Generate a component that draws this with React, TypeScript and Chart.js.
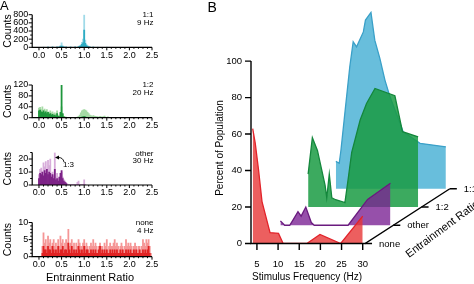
import React, { useEffect, useRef } from 'react';
import { Chart, registerables } from 'chart.js';
Chart.register(...registerables);

const FONT = '"Liberation Sans", Arial, Helvetica, sans-serif';

// ---------- Panel A : histograms (bins of 0.025 in entrainment ratio) ----------
const BINS = Array.from({ length: 101 }, (_, k) => +(k * 0.025).toFixed(3));

const p1Ratio = [0.1, 0.2, 0.3, 0.4, 0.45, 0.475, 0.5, 0.525, 0.55, 0.6, 0.7, 0.8, 0.875, 0.9, 0.925, 0.95, 0.975, 1.0, 1.025, 1.05, 1.075, 1.1, 1.125, 1.2, 1.3, 1.5];
const p1Light = [6, 8, 10, 12, 20, 40, 110, 35, 15, 10, 8, 10, 20, 40, 60, 120, 200, 800, 180, 70, 40, 20, 10, 8, 6, 4];
const p1Dark = [2, 3, 4, 5, 8, 15, 30, 12, 6, 4, 3, 4, 10, 20, 35, 70, 110, 420, 100, 40, 20, 10, 5, 3, 2, 1];

const p2Light = [35, 38, 30, 40, 28, 32, 25, 30, 22, 20, 25, 18, 22, 15, 18, 12, 25, 10, 8, 15, 40, 12, 5, 3, 2,
  0, 0, 0, 0, 0, 0, 0, 0, 0,
  2, 5, 10, 18, 25, 28, 30, 28, 25, 20, 15, 10, 8, 5, 8, 6, 5, 4, 3, 2, 5, 3, 2, 4, 6, 2, 1, 3, 1, 0];
const p2Dark = [25, 28, 22, 20, 25, 18, 22, 15, 20, 12, 15, 10, 12, 8, 10, 6, 15, 5, 4, 20, 120, 15, 3, 1, 0,
  0, 0, 0, 0, 0, 0, 0, 0, 0, 0, 0, 0, 0, 2, 3, 4, 3,
  0, 0, 0, 0, 0, 0, 0, 0, 0, 0, 0, 0, 0, 0, 0, 0, 0, 0, 0, 0, 0, 0];

const p3Light = [8, 12, 13, 10, 17, 14, 18, 12, 19, 15, 20, 8, 10, 7, 25, 6, 9, 5, 4, 6, 10, 6, 4, 3, 2, 1, 0, 0, 0, 0, 0, 0, 0, 0, 2, 3, 0, 0, 0, 0, 4, 0];
const p3Dark = [5, 9, 8, 10, 7, 11, 9, 12, 8, 10, 9, 6, 8, 5, 12, 4, 5, 3, 6, 9, 11, 5, 3, 2, 1, 0, 0, 0, 0, 0, 0, 0, 0, 0, 0, 0, 0, 0, 0, 0, 0, 0];

const p4Light = [0, 0, 0, 3, 7, 4, 5, 3, 6, 4,
  5, 3, 4, 5, 3, 4, 2, 5, 3, 6,
  4, 5, 3, 4, 5, 4, 8, 3, 4, 5,
  3, 4, 2, 4, 3, 5, 4, 3, 3, 4,
  5, 3, 4, 3, 2, 3, 4, 3, 5, 3,
  4, 3, 2, 3, 4, 3, 3, 2, 4, 3,
  5, 2, 3, 4, 3, 3, 4, 5, 3, 4,
  3, 2, 3, 4, 3, 2, 3, 5, 3, 4,
  3, 4, 3, 2, 3, 4, 3, 2, 3, 3,
  2, 3, 5, 4, 3, 5, 4, 5, 3, 1, 0];
const p4Dark = [0, 0, 0, 1, 3, 2, 2, 1, 3, 2,
  2, 1, 3, 2, 1, 2, 1, 3, 1, 2,
  2, 3, 1, 2, 2, 1, 4, 2, 1, 3,
  1, 2, 1, 2, 1, 3, 2, 1, 2, 1,
  3, 1, 2, 2, 1, 1, 2, 1, 2, 1,
  2, 1, 1, 2, 3, 1, 2, 1, 2, 1,
  2, 1, 1, 2, 1, 2, 1, 2, 1, 2,
  1, 1, 2, 1, 2, 1, 1, 2, 1, 2,
  1, 2, 1, 1, 2, 1, 2, 1, 1, 2,
  1, 1, 2, 1, 2, 1, 2, 3, 1, 0, 0];

const xTickLabels = ['0.0', '0.5', '1.0', '1.5', '2.0', '2.5'];

// ---------- Panel B : waterfall ----------
const freqTicks = [5, 10, 15, 20, 25, 30];
const pctTicks = [0, 20, 40, 60, 80, 100];
const ratioLabels = ['none', 'other', '1:2', '1:1'];

const noneFreq = [4, 4.6, 5.4, 6.2, 8.1, 10.1, 11.2, 16.8, 19.9, 24.8, 30];
const noneVal = [63, 55, 40, 23, 6, 5.5, 0, 0, 5, 0, 15];
const otherFreq = [4, 5, 6.2, 7, 8.15, 8.9, 10, 11.3, 12, 20, 24.6, 30];
const otherVal = [2.4, 0, 0, 3, 7.5, 5, 10, 1.5, 0, 0, 14.2, 23];
const halfFreq = [4, 5, 6.2, 8, 8.4, 9, 9.6, 10.5, 11.6, 12.7, 13.5, 14.3, 16.3, 17.8, 19.8, 24.5, 26.3, 30];
const halfVal = [18, 38, 31, 12, 5, 18, 5, 4, 3.3, 2.4, 16, 30, 47.7, 56.8, 65, 61, 41.3, 38.5];
const oneFreq = [4, 4.8, 5.2, 6.2, 7.3, 8.1, 8.9, 10.5, 11, 12.3, 13.2, 14.4, 15.6, 16.8, 18.3, 19.9, 23.9, 30];
const oneVal = [15, 14, 21, 43, 67, 80.6, 77.8, 86, 92.5, 96.7, 81.5, 71.5, 59.6, 50.4, 41.3, 31.3, 24.9, 23];

const SHIFT = 6.55; // Hz offset per depth level
const LEVEL = 10; // % offset per depth level

type Panel = {
  ratio: number[]; light: number[]; dark: number[];
  lightColor: string; darkColor: string;
  yMax: number; yTicks: number[]; yMinor: number;
  top: number; bottom: number;
  title: string[]; titleY: number[];
  xTitle?: boolean; arrow?: boolean;
};

const X_LEFT = 32.2, X_RIGHT = 152;

function histPlugin(p: Panel) {
  return {
    id: 'histAxes',
    afterDraw(chart: any) {
      const ctx = chart.ctx;
      const xs = chart.scales.x, ys = chart.scales.y;
      const yb = ys.getPixelForValue(0), yt = ys.getPixelForValue(p.yMax);
      const xl = chart.chartArea.left, xr = xs.getPixelForValue(2.5);
      ctx.save();
      ctx.strokeStyle = '#000';
      ctx.fillStyle = '#000';
      ctx.lineWidth = 1.2;
      ctx.beginPath();
      ctx.moveTo(xl, yt); ctx.lineTo(xl, yb); ctx.lineTo(xr, yb);
      ctx.stroke();
      ctx.lineWidth = 1;
      ctx.beginPath();
      for (let v = 0; v <= p.yMax + 1e-9; v += p.yMinor) {
        const y = ys.getPixelForValue(v);
        const major = p.yTicks.some((t) => Math.abs(t - v) < 1e-6);
        ctx.moveTo(xl - (major ? 3.5 : 2), y); ctx.lineTo(xl, y);
      }
      for (let k = 0; k <= 25; k++) {
        const x = xs.getPixelForValue(k * 0.1);
        ctx.moveTo(x, yb); ctx.lineTo(x, yb + (k % 5 === 0 ? 3 : 1.5));
      }
      ctx.stroke();
      ctx.font = `9px ${FONT}`;
      ctx.textAlign = 'right'; ctx.textBaseline = 'middle';
      p.yTicks.forEach((t) => ctx.fillText(String(t), xl - 4, ys.getPixelForValue(t)));
      ctx.textAlign = 'center'; ctx.textBaseline = 'top';
      xTickLabels.forEach((l) => ctx.fillText(l, xs.getPixelForValue(parseFloat(l)), yb + 3.5));
      ctx.textAlign = 'right'; ctx.textBaseline = 'middle';
      ctx.font = `8px ${FONT}`;
      p.title.forEach((t, i) => ctx.fillText(t, 153.5, p.titleY[i]));
      ctx.save();
      ctx.translate(8.5, (yb + yt) / 2);
      ctx.rotate(-Math.PI / 2);
      ctx.textAlign = 'center';
      ctx.font = `10.5px ${FONT}`;
      ctx.fillText('Counts', 0, 0);
      ctx.restore();
      if (p.xTitle) {
        ctx.textAlign = 'center';
        ctx.font = `11px ${FONT}`;
        ctx.fillText('Entrainment Ratio', 90, 278);
      }
      if (p.arrow) {
        ctx.font = `8px ${FONT}`;
        ctx.textAlign = 'center';
        ctx.fillText('1:3', 68.5, 165);
        ctx.lineWidth = 0.9;
        ctx.beginPath();
        ctx.moveTo(64, 162);
        ctx.quadraticCurveTo(63, 157.5, 58.5, 157.5);
        ctx.stroke();
        ctx.beginPath();
        ctx.moveTo(55, 157.5); ctx.lineTo(59, 155.6); ctx.lineTo(59, 159.4); ctx.closePath();
        ctx.fill();
      }
      ctx.restore();
    },
  };
}

function histConfig(p: Panel) {
  const mk = (vals: number[]) => vals.map((v, i) => ({ x: p.ratio[i], y: v }));
  const common = { barPercentage: 1, categoryPercentage: 1, borderWidth: 0, grouped: false };
  return {
    type: 'bar',
    data: {
      datasets: [
        { data: mk(p.dark), backgroundColor: p.darkColor, ...common },
        { data: mk(p.light), backgroundColor: p.lightColor, ...common },
      ],
    },
    options: {
      animation: false, responsive: false, events: [],
      layout: { padding: { left: X_LEFT, right: 474 - X_RIGHT, top: p.top, bottom: 284 - p.bottom } },
      scales: {
        x: { type: 'linear', min: -0.15, max: 2.5, display: false, offset: false },
        y: { type: 'linear', min: 0, max: p.yMax, display: false },
      },
      plugins: { legend: { display: false }, tooltip: { enabled: false } },
    },
    plugins: [histPlugin(p)],
  };
}

const panels: Panel[] = [
  { ratio: p1Ratio, light: p1Light, dark: p1Dark, lightColor: 'rgb(160,218,232)', darkColor: 'rgb(45,172,195)',
    yMax: 800, yTicks: [0, 200, 400, 600, 800], yMinor: 100, top: 14.7, bottom: 47.3, title: ['1:1', '9 Hz'], titleY: [15, 23] },
  { ratio: BINS, light: p2Light, dark: p2Dark, lightColor: 'rgb(165,218,165)', darkColor: 'rgb(30,150,60)',
    yMax: 120, yTicks: [0, 40, 80, 120], yMinor: 20, top: 85, bottom: 117.7, title: ['1:2', '20 Hz'], titleY: [85, 93] },
  { ratio: BINS, light: p3Light, dark: p3Dark, lightColor: 'rgb(215,172,218)', darkColor: 'rgb(125,35,135)',
    yMax: 25, yTicks: [0, 10, 20], yMinor: 5, top: 152.5, bottom: 185, title: ['other', '30 Hz'], titleY: [153.5, 160.5], arrow: true },
  { ratio: BINS, light: p4Light, dark: p4Dark, lightColor: 'rgb(245,150,150)', darkColor: 'rgb(225,35,35)',
    yMax: 10, yTicks: [0, 5, 10], yMinor: 1, top: 222.5, bottom: 256.7, title: ['none', '4 Hz'], titleY: [223, 230.5], xTitle: true },
];

const bSeries = [
  { freq: noneFreq, val: noneVal, level: 0, line: '#e2232a', fill: 'rgba(231,55,55,0.8)' },
  { freq: otherFreq, val: otherVal, level: 1, line: '#6a1b7f', fill: 'rgba(124,36,149,0.8)' },
  { freq: halfFreq, val: halfVal, level: 2, line: '#14873c', fill: 'rgba(26,155,67,0.85)' },
  { freq: oneFreq, val: oneVal, level: 3, line: '#3aa0c8', fill: 'rgba(88,183,216,0.9)' },
];

const bPlugin = {
  id: 'bAxes',
  afterDraw(chart: any) {
    const ctx = chart.ctx;
    const xs = chart.scales.x, ys = chart.scales.y;
    const X = (v: number) => xs.getPixelForValue(v);
    const Y = (v: number) => ys.getPixelForValue(v);
    const left = chart.chartArea.left;
    ctx.save();
    ctx.strokeStyle = '#000';
    ctx.fillStyle = '#000';
    ctx.lineWidth = 1.4;
    const dStart = 30.55;
    ctx.beginPath();
    ctx.moveTo(left, Y(100));
    ctx.lineTo(left, Y(0));
    ctx.lineTo(X(dStart), Y(0));
    ctx.lineTo(X(dStart + 3 * 6.68), Y(3 * LEVEL));
    ctx.stroke();
    ctx.beginPath();
    pctTicks.forEach((t) => { ctx.moveTo(left - 6, Y(t)); ctx.lineTo(left, Y(t)); });
    freqTicks.forEach((t) => { ctx.moveTo(X(t), Y(0)); ctx.lineTo(X(t), Y(0) + 6.5); });
    ratioLabels.forEach((_, i) => {
      const px = X(dStart + i * 6.68), py = Y(i * LEVEL);
      ctx.moveTo(px, py); ctx.lineTo(px + 7, py);
    });
    ctx.stroke();
    ctx.font = `9.5px ${FONT}`;
    ctx.textAlign = 'right'; ctx.textBaseline = 'middle';
    pctTicks.forEach((t) => ctx.fillText(String(t), left - 9, Y(t)));
    ctx.textAlign = 'center';
    freqTicks.forEach((t) => ctx.fillText(String(t), X(t), Y(0) + 20.5));
    ctx.textAlign = 'left';
    ratioLabels.forEach((l, i) => ctx.fillText(l, X(dStart + i * 6.68) + 14, Y(i * LEVEL) + 0.5));
    ctx.font = `10px ${FONT}`;
    ctx.textAlign = 'center';
    ctx.fillText('Stimulus Frequency (Hz)', 307, 277);
    ctx.save();
    ctx.translate(220, 148);
    ctx.rotate(-Math.PI / 2);
    ctx.fillText('Percent of Population', 0, 0);
    ctx.restore();
    ctx.save();
    ctx.font = `11px ${FONT}`;
    ctx.translate(409, 258);
    ctx.rotate(-0.64);
    ctx.textAlign = 'left';
    ctx.textBaseline = 'alphabetic';
    ctx.fillText('Entrainment Ratio', 0, 0);
    ctx.restore();
    ctx.textAlign = 'left';
    ctx.textBaseline = 'alphabetic';
    ctx.font = `13px ${FONT}`;
    ctx.fillText('A', 0, 9.5);
    ctx.font = `14px ${FONT}`;
    ctx.fillText('B', 207.5, 11.8);
    ctx.restore();
  },
};

function bConfig() {
  return {
    type: 'line',
    data: {
      datasets: bSeries.map((s) => ({
        data: s.freq.map((f, i) => ({ x: f + s.level * SHIFT, y: s.val[i] + s.level * LEVEL })),
        borderColor: s.line,
        backgroundColor: s.fill,
        fill: { value: s.level * LEVEL },
        borderWidth: 1.3,
        pointRadius: 0,
        tension: 0,
      })),
    },
    options: {
      animation: false, responsive: false, events: [],
      layout: { padding: { left: 251, right: 0, top: 0, bottom: 40.5 } },
      scales: {
        x: { type: 'linear', min: 3.6, max: 56.3, display: false },
        y: { type: 'linear', min: 0, max: 133.5, display: false },
      },
      plugins: { legend: { display: false }, tooltip: { enabled: false }, filler: { drawTime: 'beforeDatasetDraw' } },
    },
    plugins: [bPlugin],
  };
}

function ChartCanvas({ make }: { make: () => any }) {
  const ref = useRef<HTMLCanvasElement>(null);
  useEffect(() => {
    const c = new Chart(ref.current as HTMLCanvasElement, make());
    return () => c.destroy();
  }, []);
  return (
    <canvas
      ref={ref}
      width={474}
      height={284}
      style={{ position: 'absolute', left: 0, top: 0, width: 474, height: 284 }}
    />
  );
}

export default function App() {
  return (
    <div style={{ position: 'fixed', left: 0, top: 0, width: 474, height: 284, background: '#fff', overflow: 'hidden' }}>
      {panels.map((p, i) => (
        <ChartCanvas key={i} make={() => histConfig(p)} />
      ))}
      <ChartCanvas make={bConfig} />
    </div>
  );
}
